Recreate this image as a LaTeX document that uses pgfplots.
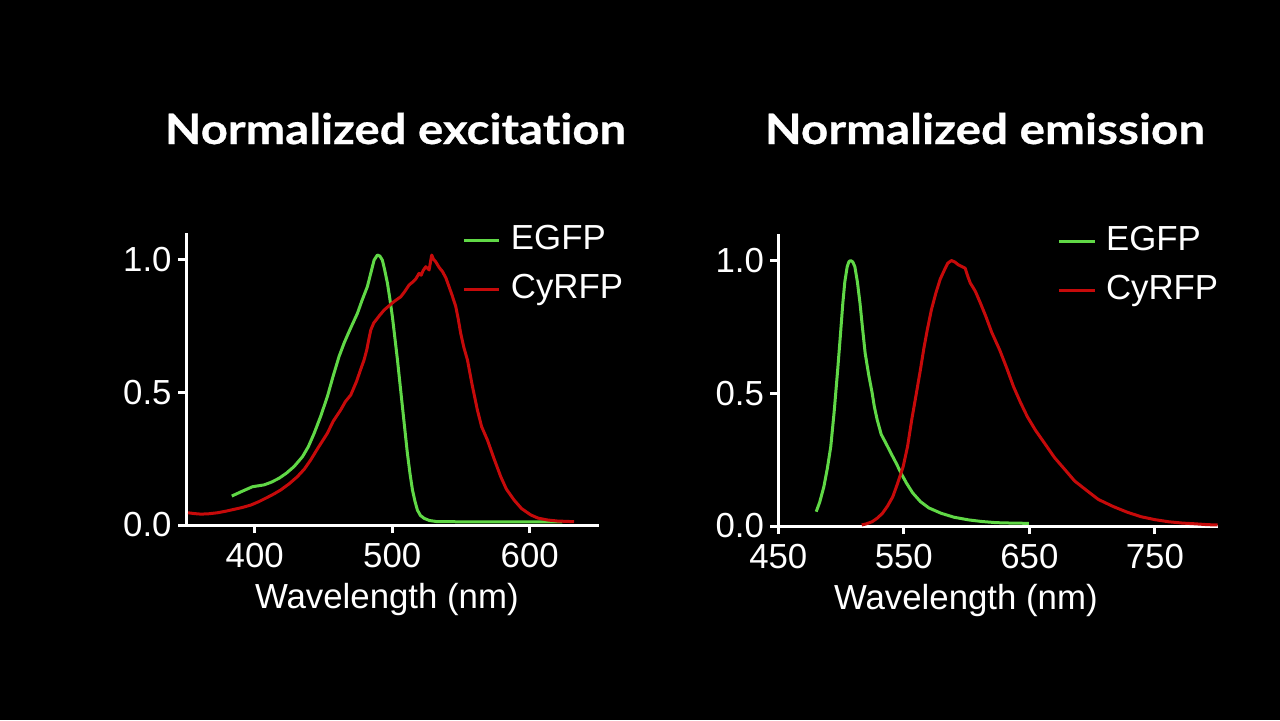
\documentclass[border=0pt]{standalone}
\usepackage{pgfplots}
\pgfplotsset{compat=1.18}
\usepackage{graphicx}
\usepackage{fontspec}
\setmainfont{Liberation Sans}
\newfontfamily\titlefont{Lato}[Ligatures=NoCommon, BoldFeatures={FakeBold=0.6}]

\definecolor{egfp}{RGB}{96,216,70}
\definecolor{cyrfp}{RGB}{198,10,10}

\newcommand{\lblfont}{\fontsize{17.4}{20}\selectfont}
\newcommand{\ttl}[2]{\resizebox{#1}{\height}{\titlefont\bfseries\fontsize{21}{24}\selectfont #2}}

\pgfplotsset{
  spec/.style={
    scale only axis, anchor=south west,
    axis lines=left,
    axis line style={-, white, line width=1.5pt},
    ymin=0, ymax=1.1,
    ytick={0,0.5,1}, yticklabels={0.0,0.5,1.0},
    tick align=outside, major tick length=4pt,
    tick style={white, line width=1.5pt},
    minor tick num=0,
    /pgf/number format/assume math mode=true,
    ticklabel style={font=\lblfont, text=white},
    xticklabel style={inner sep=5pt},
    yticklabel style={inner sep=3pt},
    xlabel style={font=\lblfont, text=white, anchor=base},
    every axis plot/.append style={line width=1.5pt, no markers, line join=round},
    legend style={draw=none, fill=none, text=white, font=\lblfont,
      inner sep=0pt, row sep=8.5pt, column sep=5pt, anchor=north west,
      nodes={inner sep=0pt, text height=12.5pt, text depth=3.5pt}},
    legend cell align=left,
    legend image code/.code={\draw[##1] (0pt,0pt) -- (17.8pt,0pt);},
    clip=false,
  }
}

\begin{document}
\begin{tikzpicture}
\fill[black] (0,0) rectangle (640pt,360pt);

\node[text=white, anchor=base, inner sep=0pt] at (197.75pt,288pt) {\ttl{230.5pt}{Normalized excitation}};
\node[text=white, anchor=base, inner sep=0pt] at (492.5pt,288pt) {\ttl{220pt}{Normalized emission}};

% Excitation spectra
\begin{axis}[spec,
  at={(93pt,97.5pt)}, width=206.25pt, height=146.15pt,
  xmin=350, xmax=650, xtick={400,500,600},
  xlabel={Wavelength (nm)},
  xlabel style={at={(axis description cs:0.487,-0.287)}},
  legend style={at={(axis description cs:0.669,1.03)}},
]
\addplot[egfp] coordinates {
(383.3,0.109) (390,0.125) (398.3,0.144) (406.8,0.151) (412,0.161) (417.7,0.176)
(423,0.195) (428.6,0.22) (434.7,0.257) (439,0.295) (443.2,0.345) (448,0.41)
(452.8,0.483) (457,0.56) (461.3,0.634) (465,0.685) (468.6,0.728) (474.7,0.797)
(478,0.845) (481.9,0.897) (484.5,0.95) (486.8,0.997) (489.2,1.016) (491,1.012)
(492.8,0.997) (494.5,0.96) (496.5,0.91) (498.3,0.85) (500.1,0.784) (503.8,0.621)
(507.4,0.445) (511,0.27) (513,0.19) (514.7,0.132) (516.5,0.09) (518.3,0.056)
(520.5,0.036) (523.2,0.025) (527,0.017) (532.8,0.0125) (560,0.012) (590,0.012)
(623.8,0.012)
};
\addlegendentry{EGFP}
\addplot[cyrfp] coordinates {
(351.5,0.046) (356,0.043) (360.7,0.041) (366,0.042) (372.8,0.046) (379,0.052)
(385,0.059) (391,0.066) (397.1,0.075) (403,0.088) (409.2,0.104) (414,0.117)
(418.9,0.132) (425,0.155) (431,0.182) (436,0.21) (440.7,0.245) (446,0.29)
(452.8,0.345) (457,0.39) (462.5,0.433) (466,0.465) (469.8,0.489) (474,0.54)
(477,0.585) (479.5,0.621) (481.5,0.66) (483,0.70) (484.4,0.734) (486.5,0.76)
(489.2,0.778) (491,0.79) (494.1,0.809) (497,0.822) (501.3,0.841) (506.2,0.859)
(509,0.878) (512.2,0.903) (515,0.915) (517,0.925) (519.5,0.947) (521,0.94)
(522.5,0.958) (524.4,0.972) (526.8,0.96) (528.7,1.016) (530,1.0) (531.6,0.991)
(534,0.97) (536.5,0.954) (539,0.93) (541.3,0.897) (543.5,0.865) (546.2,0.822)
(548,0.775) (549.8,0.721) (552,0.67) (554.7,0.621) (558,0.53) (561.9,0.433)
(565,0.37) (569.2,0.32) (574,0.25) (578.9,0.182) (583,0.135) (588.6,0.094)
(594,0.062) (600.7,0.038) (606,0.026) (612.8,0.019) (620,0.015) (632.2,0.0125)
};
\addlegendentry{CyRFP}
\end{axis}

% Emission spectra
\begin{axis}[spec,
  at={(389.15pt,97pt)}, width=219.65pt, height=146pt,
  xmin=450, xmax=800, xtick={450,550,650,750},
  xlabel={Wavelength (nm)},
  xlabel style={at={(axis description cs:0.427,-0.287)}},
  legend style={at={(axis description cs:0.6345,1.03)}},
]
\addplot[egfp] coordinates {
(480.2,0.054) (483,0.09) (486.3,0.148) (489,0.215) (491.8,0.299) (494.5,0.43)
(497.3,0.588) (499.5,0.72) (501.4,0.839) (503,0.92) (504.9,0.977) (506.3,0.996)
(507.7,1.0) (509.3,0.995) (511,0.977) (513,0.92) (515.1,0.839) (517,0.75)
(519.2,0.651) (522,0.57) (524.7,0.503) (526.5,0.45) (528.8,0.4) (532,0.345)
(535.7,0.312) (540,0.272) (544,0.236) (548,0.197) (552.2,0.161) (557,0.125)
(563.2,0.092) (570,0.068) (579.7,0.048) (590,0.033) (601.6,0.023) (612,0.017)
(623.6,0.0126) (636,0.011) (649.7,0.01)
};
\addlegendentry{EGFP}
\addplot[cyrfp] coordinates {
(516.5,0.004) (520,0.008) (524.7,0.016) (529,0.03) (533,0.048) (537,0.075)
(541.2,0.11) (545,0.16) (549.5,0.224) (553,0.3) (556.3,0.4) (560,0.5)
(563.2,0.588) (566,0.67) (568.7,0.739) (572,0.815) (575.5,0.877) (579,0.93)
(582.4,0.965) (585,0.99) (587.9,1.0) (590.5,0.995) (593.4,0.984) (596,0.978)
(598.9,0.971) (601,0.94) (603,0.915) (605,0.9) (607.1,0.883) (611,0.84)
(615.4,0.789) (620,0.73) (626.4,0.663) (632,0.595) (637.4,0.525) (643,0.465)
(648.4,0.412) (655,0.36) (662.1,0.312) (670,0.258) (678.6,0.211) (686,0.17)
(695.1,0.136) (705,0.1) (717,0.073) (728,0.052) (739,0.035) (750,0.024)
(761,0.016) (772,0.011) (783,0.008) (792,0.005) (800,0.004)
};
\addlegendentry{CyRFP}
\end{axis}
\end{tikzpicture}
\end{document}
